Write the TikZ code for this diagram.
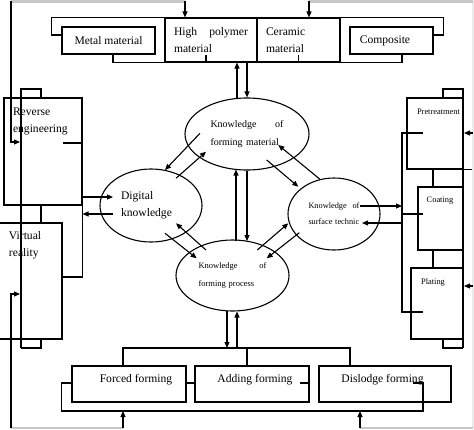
\documentclass[tikz,border=0pt]{standalone}
\usepackage{fontspec}
\setmainfont{Liberation Serif}
\usetikzlibrary{arrows.meta,shapes.geometric}
\begin{document}
\begin{tikzpicture}[x=1pt,y=-1pt,line width=1.1pt,
  box/.style={draw,rectangle,inner sep=0pt},
  ell/.style={draw,ellipse,inner sep=0pt},
  arr/.style={-{Triangle[length=6pt,width=5pt]}},
  edgeline/.style={line width=2.6pt,black!22},
  faintline/.style={line width=2pt,black!8},
  big/.style={font=\fontsize{11.6pt}{17pt}\selectfont,inner sep=0pt},
  midf/.style={font=\fontsize{10pt}{18pt}\selectfont},
  fpsf/.style={font=\fontsize{8.5pt}{18pt}\selectfont},
  fstf/.style={font=\fontsize{8.3pt}{16pt}\selectfont},
  small/.style={font=\fontsize{8.4pt}{10pt}\selectfont,inner sep=0pt}]
\useasboundingbox (0,0) rectangle (474,429);
\clip (0,0) rectangle (474,429);

% ---------- top group: materials ----------
\node[box,minimum width=93pt,minimum height=27pt,big] (metal) at (108.5,40.5) {Metal material};
\node[box,minimum width=92pt,minimum height=44pt,big,text width=74pt,align=left] (hp) at (211,40) {High\hfill polymer\\material};
\node[box,minimum width=83pt,minimum height=44pt,big,text width=65pt,align=left] (cer) at (298.5,40) {Ceramic\\material};
\node[box,minimum width=83pt,minimum height=27pt] (comp) at (391.5,40.5) {};
\node[big] (compt) at (385,41) {Composite};
\draw ([yshift=5.5pt]metal.west) -- ++(-10,0) |- (hp.north west);
\draw ([yshift=5.5pt]comp.east) -- ++(10,0) |- (cer.north east);
\draw ([xshift=4.5pt]metal.south) |- (hp.south west) -- (cer.south east) -| ([xshift=10.5pt]comp.south);
\draw ([xshift=-5pt]hp.south) -- ++(0,-8);
\draw (cer.south) -- ++(0,-8);

% ---------- ellipses ----------
\node[ell,minimum width=124pt,minimum height=72pt,midf,text width=73pt,align=left] (fm) at (247,134) {Knowledge\hfill of\\forming material};
\node[ell,minimum width=102pt,minimum height=73pt,big,text width=60pt,align=left] (dk) at (151,205.5) {Digital\\knowledge};
\node[ell,minimum width=92pt,minimum height=72pt,fstf,text width=51pt,align=left] (st) at (334,214) {Knowledge\hfill of\\surface technic};
\node[ell,minimum width=113pt,minimum height=71pt,fpsf,text width=68pt,align=left] (fp) at (232.5,275.5) {Knowledge\hfill of\\forming process};

% ---------- left column ----------
\node[box,minimum width=78pt,minimum height=107pt] (rev) at (43,151.5) {};
\node[big,text width=60pt,align=left] (revt) at (43,121.5) {Reverse\\engineering};
\node[box,minimum width=68pt,minimum height=116pt] (vr) at (28,281) {};
\node[big,text width=50pt,align=left] (vrt) at (34,245.5) {Virtual\\reality};
\coordinate (lvt) at (21,89);
\coordinate (lvb) at (21,348);
\coordinate (tabx) at (41,0);
\draw (lvb) -- (lvt) -| (tabx |- rev.north);
\draw (lvb) -| (tabx |- vr.south);
\draw (tabx |- rev.south) -- (tabx |- vr.north);
\draw ([yshift=8.5pt]rev.east) -- ++(-20,0);
\draw (rev.south east) |- ([yshift=4pt]vr.east);

% ---------- right column ----------
\node[box,minimum width=56pt,minimum height=71pt] (pre) at (435,133.5) {};
\node[small] (pret) at (438.5,112) {Pretreatment};
\node[box,minimum width=45pt,minimum height=63pt] (coat) at (440.5,218.5) {};
\node[small] (coatt) at (440,201) {Coating};
\node[box,minimum width=52pt,minimum height=71pt] (plat) at (437,303.5) {};
\node[small] (platt) at (433,282) {Plating};
\draw (pre.south east) -- ++(12,0);
\coordinate (rvt) at (463,89);
\coordinate (rvb) at (463,348);
\coordinate (rtab) at (443,0);
\coordinate (rcx) at (433,0);
\coordinate (rbx) at (402,0);
\draw (rvb) -- (rvt) -| (rtab |- pre.north);
\draw (rvb) -| (rtab |- plat.south);
\draw (rcx |- pre.south) -- (rcx |- coat.north);
\draw (rcx |- coat.south) -- (rcx |- plat.north);
\coordinate (rk1) at (423,133);
\coordinate (rk2) at (423,214);
\coordinate (rk3) at (423,312);
\draw (rk1) -| (rbx |- rk3) -- (rk3);
\draw (rk2) -- (rk2 -| rbx);

% ---------- bottom group: forming ----------
\node[box,minimum width=114pt,minimum height=36pt] (forced) at (129,384) {};
\node[big] (forcedt) at (136,380) {Forced forming};
\node[box,minimum width=114pt,minimum height=36pt] (adding) at (252,384) {};
\node[big] (addingt) at (255,380) {Adding forming};
\node[box,minimum width=132pt,minimum height=36pt] (disl) at (385,384) {};
\node[big] (dislt) at (382.5,380) {Dislodge forming};
\coordinate (bb1) at (123,348);
\coordinate (bb2) at (247,348);
\coordinate (bb3) at (350,348);
\coordinate (bbr) at (423,411);
\draw (bb1 |- forced.north) -- (bb1) -- (bb3) -- (bb3 |- disl.north);
\draw (bb2) -- (bb2 |- adding.north);
\draw ([yshift=1pt]forced.east) -- ([yshift=1pt]adding.west);
\draw ([yshift=1pt]adding.east) -- ++(-10,0);
\draw ([yshift=1pt]forced.west) -- ++(-10,0) |- (bbr) -- ++(0,-28) -- ++(-10,0);

% ---------- outer frame connectors ----------
\coordinate (tl) at (11,1.25);
\coordinate (t1) at (185,1.25);
\coordinate (t2) at (309,1.25);
\coordinate (trr) at (473,1.25);
\coordinate (bl) at (11,428);
\coordinate (b1) at (123,428);
\coordinate (b2) at (360,428);
\coordinate (brr) at (473,428);
\coordinate (rin) at (20,142);
\coordinate (vin) at (20,294);
\coordinate (pin) at (464,133);
\coordinate (plin) at (464,286);
\draw[faintline] (trr) -- (brr);
\draw[edgeline] (tl) -- (t1);
\draw[edgeline] (t2) -- (trr);
\draw[edgeline] (brr) -- (b2);
\draw[edgeline] (b1) -- (bl);
\draw[arr] (tl) |- (rin);
\draw[arr] (bl) |- (vin);
\draw[arr] (t1) -- (t1 |- hp.north);
\draw[arr] (t2) -- (t2 |- cer.north);
\draw[arr] (b1) -- (b1 |- bbr);
\draw[arr] (b2) -- (b2 |- bbr);
\draw[arr] (pin -| trr) -- (pin);
\draw[arr] (plin -| trr) -- (plin);

% ---------- group <-> ellipse arrows ----------
\coordinate (tu) at (237,98.5);
\draw[arr] (tu) -- (tu |- hp.south);
\draw[arr] (fm.north |- hp.south) -- (fm.north);
\coordinate (vd) at (247,241);
\coordinate (vu1) at (236,240.5);
\coordinate (vu2) at (236,169.5);
\draw[arr] (fm.south) -- (vd);
\draw[arr] (vu1) -- (vu2);
\coordinate (pd) at (227,311);
\coordinate (pu) at (237,311.5);
\draw[arr] (pd) -- (pd |- bb1);
\draw[arr] (pu |- bb1) -- (pu);
\coordinate (dkin) at (113,197);
\coordinate (dkout) at (113,214);
\draw[arr] (dkin -| rev.east) -- (dkin);
\draw[arr] (dkout) -- (dkout -| rev.east);
\coordinate (stin) at (360,206);
\coordinate (stout) at (362,223);
\draw[arr] (stin) -- (stin -| rbx);
\draw[arr] (stout -| rbx) -- (stout);

% ---------- ellipse <-> ellipse arrows ----------
\coordinate (e1a) at (200,133.3);   \coordinate (e1b) at (165,170);
\coordinate (e2a) at (176,178.3);   \coordinate (e2b) at (206,151.7);
\coordinate (e3a) at (266.7,160);   \coordinate (e3b) at (298.3,186.7);
\coordinate (e4a) at (320,179.3);   \coordinate (e4b) at (278.3,145);
\coordinate (e5a) at (165,233.3);   \coordinate (e5b) at (196.7,258.3);
\coordinate (e6a) at (206,250);     \coordinate (e6b) at (176,223.3);
\coordinate (e7a) at (257.3,250);   \coordinate (e7b) at (288.3,223.3);
\coordinate (e8a) at (299.3,232.7); \coordinate (e8b) at (266.7,258.3);
\foreach \i in {1,...,8} {\draw[arr] (e\i a) -- (e\i b);}
\end{tikzpicture}
\end{document}
